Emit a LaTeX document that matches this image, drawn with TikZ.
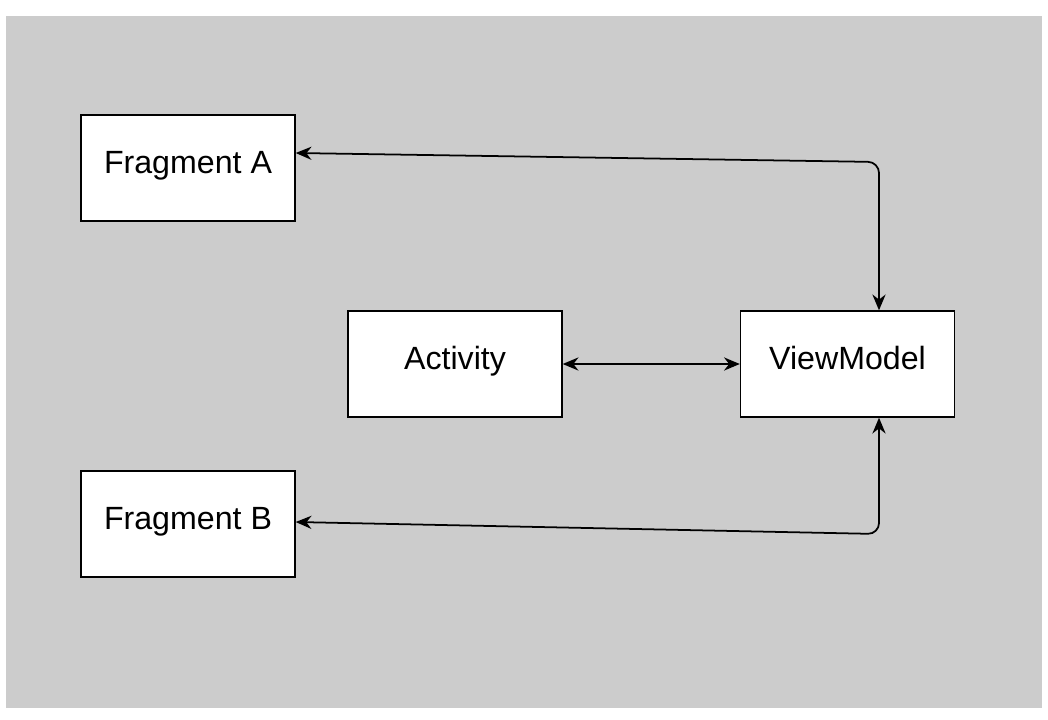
\documentclass[tikz,border=0pt]{standalone}
\usepackage{fontspec}
\setmainfont{Liberation Sans}
\usetikzlibrary{arrows.meta}
\tikzset{
    box/.style={draw,fill=white,line width=0.8pt,minimum width=4.28cm,minimum height=2.12cm,text height=1.4ex,text depth=0.3ex,font=\fontsize{18.3pt}{20pt}\selectfont},
    link/.style={line width=1pt,{Stealth[length=9pt,width=7.5pt]}-{Stealth[length=9pt,width=7.5pt]},rounded corners=0.22cm}
}
\begin{document}
\begin{tikzpicture}[x=0.02cm,y=-0.02cm]
        \useasboundingbox (0,0) rectangle (1048,720);
        \fill[white](0,0)rectangle(1048,720);
        \fill[gray!40](6,16)rectangle(1042,708);
        \node[box] (fragA) at (188,168) {Fragment A};
        \node[box] (activity) at (455,364) {Activity};
        \node[box] (viewmodel) at (847.5,364) {ViewModel};
        \node[box] (fragB) at (188,524) {Fragment B};
        \coordinate (ca) at (879,162);
        \coordinate (cb) at (879,534);
        \draw[link](fragA.east|-0,153)--(ca)--(viewmodel.north-|ca);
        \draw[link](fragB.east|-0,522)--(cb)--(viewmodel.south-|cb);
        \draw[link](activity)--(viewmodel);
    \end{tikzpicture}
\end{document}
